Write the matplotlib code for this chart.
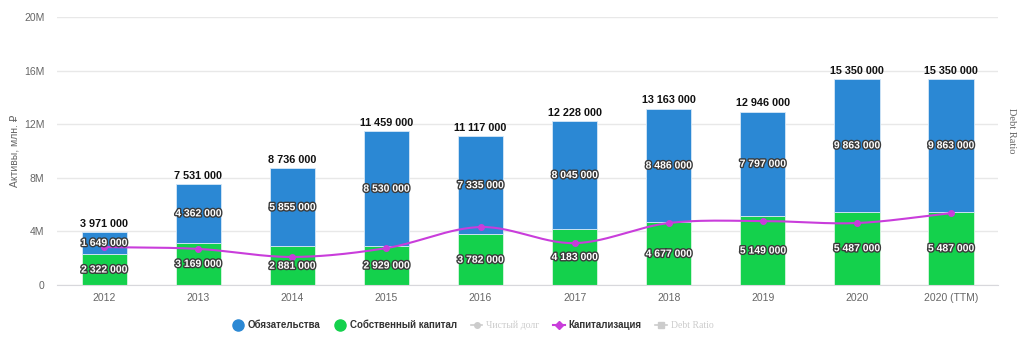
import numpy as np
import matplotlib.pyplot as plt
import matplotlib.patheffects as pe
from matplotlib.lines import Line2D

plt.rcParams['font.family'] = ['Liberation Sans', 'DejaVu Sans']

# Balance sheet structure by year (RUB thousand)
years = ["2012", "2013", "2014", "2015", "2016", "2017", "2018", "2019", "2020", "2020 (TTM)"]
liabilities = [1649000, 4362000, 5855000, 8530000, 7335000, 8045000, 8486000, 7797000, 9863000, 9863000]
equity = [2322000, 3169000, 2881000, 2929000, 3782000, 4183000, 4677000, 5149000, 5487000, 5487000]
totals = [3971000, 7531000, 8736000, 11459000, 11117000, 12228000, 13163000, 12946000, 15350000, 15350000]
market_cap = [2.84e6, 2.70e6, 2.10e6, 2.76e6, 4.33e6, 3.13e6, 4.63e6, 4.78e6, 4.63e6, 5.37e6]

y_ticks = [0, 4e6, 8e6, 12e6, 16e6, 20e6]
y_tick_labels = ["0", "4M", "8M", "12M", "16M", "20M"]

BLUE = "#2b88d4"
GREEN = "#14d14c"
MAGENTA = "#c93ddb"
GRID = "#e8e8e8"
TICK = "#666666"
DISABLED = "#cccccc"


def fmt(v):
    return f"{v:,}".replace(",", " ")


def spline(xs, ys, n=30):
    """Catmull-Rom curve through the given points."""
    xs = np.asarray(xs, float)
    ys = np.asarray(ys, float)
    px = np.concatenate([[2 * xs[0] - xs[1]], xs, [2 * xs[-1] - xs[-2]]])
    py = np.concatenate([[2 * ys[0] - ys[1]], ys, [2 * ys[-1] - ys[-2]]])
    out_x, out_y = [], []
    t = np.linspace(0, 1, n)
    for i in range(1, len(px) - 2):
        for arr, out in ((px, out_x), (py, out_y)):
            p0, p1, p2, p3 = arr[i - 1], arr[i], arr[i + 1], arr[i + 2]
            seg = 0.5 * ((2 * p1) + (-p0 + p2) * t + (2 * p0 - 5 * p1 + 4 * p2 - p3) * t ** 2
                         + (-p0 + 3 * p1 - 3 * p2 + p3) * t ** 3)
            out.extend(seg)
    return np.array(out_x), np.array(out_y)


fig = plt.figure(figsize=(10.24, 3.39), dpi=100)
ax = fig.add_axes([0.0557, 0.159, 0.919, 0.791])

x = np.arange(len(years))
width = 0.48

ax.bar(x, equity, width, color=GREEN, edgecolor="#d8f5e0", linewidth=0.6, zorder=2)
ax.bar(x, liabilities, width, bottom=equity, color=BLUE, edgecolor="#d6e8f7", linewidth=0.6, zorder=2)

sx, sy = spline(x, market_cap)
ax.plot(sx, sy, color=MAGENTA, linewidth=1.5, zorder=4)
ax.plot(x, market_cap, linestyle="none", marker="o", markersize=4, color=MAGENTA, zorder=5)

outline = [pe.withStroke(linewidth=2.0, foreground="#3a3a3a")]
for xi, e, l, t in zip(x, equity, liabilities, totals):
    ax.text(xi, e / 2, fmt(e), ha="center", va="center", color="white", fontsize=7.5,
            fontweight="bold", path_effects=outline, zorder=6)
    ax.text(xi, e + l / 2, fmt(l), ha="center", va="center", color="white", fontsize=7.5,
            fontweight="bold", path_effects=outline, zorder=6)
    ax.text(xi, t + 0.25e6, fmt(t), ha="center", va="bottom", color="#111111", fontsize=7.8,
            fontweight="bold", zorder=6)

ax.set_xlim(-0.5, len(years) - 0.5)
ax.set_ylim(0, 20e6)
ax.set_yticks(y_ticks)
ax.set_yticklabels(y_tick_labels)
ax.set_xticks(x)
ax.set_xticklabels(years)
ax.tick_params(axis="both", length=0, labelsize=7.5, labelcolor=TICK)
ax.tick_params(axis="y", pad=9)
ax.tick_params(axis="x", pad=6)
ax.grid(axis="y", color=GRID, linewidth=1, zorder=0)
ax.set_axisbelow(True)
for side in ("top", "right", "left"):
    ax.spines[side].set_visible(False)
ax.spines["bottom"].set_color("#d8d8dc")
ax.set_ylabel("Активы, млн. ₽", fontsize=7.5, color=TICK, labelpad=3)

fig.text(0.988, 0.615, "Debt Ratio", rotation=270, ha="center", va="center",
         fontsize=7.5, color=TICK, family="Liberation Serif")

handles = [
    Line2D([], [], linestyle="none", marker="o", markersize=8, color=BLUE),
    Line2D([], [], linestyle="none", marker="o", markersize=8, color=GREEN),
    Line2D([], [], color=DISABLED, marker="o", markersize=4, linewidth=1.2),
    Line2D([], [], color=MAGENTA, marker="D", markersize=4, linewidth=1.5),
    Line2D([], [], color=DISABLED, marker="s", markersize=4, linewidth=1.2),
]
labels = ["Обязательства", "Собственный капитал", "Чистый долг", "Капитализация", "Debt Ratio"]
leg = fig.legend(handles, labels, loc="center", bbox_to_anchor=(0.462, 0.04), ncol=5, frameon=False,
                 fontsize=7, handlelength=1.2, handletextpad=0.4, columnspacing=1.4)
for txt, active in zip(leg.get_texts(), [True, True, False, True, False]):
    if active:
        txt.set_color("#333333")
        txt.set_fontweight("bold")
    else:
        txt.set_color(DISABLED)
        txt.set_family("Liberation Serif")

fig.savefig("out.png", dpi=100, facecolor="white")
